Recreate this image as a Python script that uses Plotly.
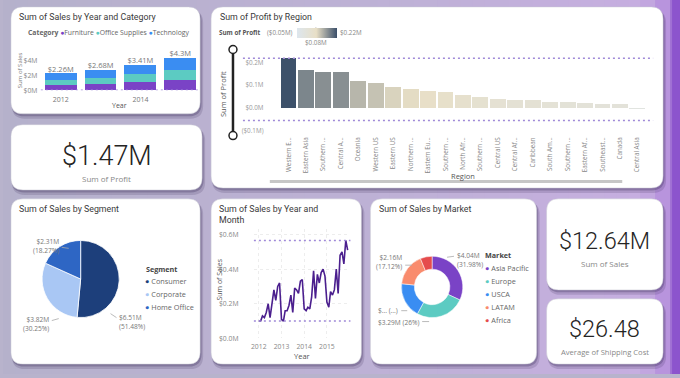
import plotly.graph_objects as go

W, H = 680, 378

# ---------------- data ----------------
YEARS = [2012, 2013, 2014, 2015]
CATEGORIES = ["Furniture", "Office Supplies", "Technology"]
SALES_FURNITURE = [0.73, 0.87, 1.11, 1.40]
SALES_OFFICE = [0.69, 0.80, 1.02, 1.28]
SALES_TECH = [0.84, 1.01, 1.28, 1.62]
YEAR_TICKS = [2012, 2014]

REGIONS = ["Western Europe", "Eastern Asia", "Southern Asia", "Central America", "Oceania",
           "Western US", "Eastern US", "Northern Europe", "Eastern Europe", "Southern Europe",
           "North Africa", "Southern Africa", "Central US", "Central Africa", "Caribbean",
           "South America", "Southern US", "Eastern Africa", "Southeastern Asia", "Canada",
           "Central Asia"]
REGION_TICKS = ["Western E...", "Eastern Asia", "Southern ...", "Central A...", "Oceania",
                "Western US", "Eastern US", "Northern ...", "Eastern Eu...", "Southern ...",
                "North Afr...", "Southern ...", "Central US", "Central Af...", "Caribbean",
                "South Am...", "Southern ...", "Eastern Af...", "Southeast...", "Canada",
                "Central Asia"]
PROFIT = [0.218, 0.167, 0.158, 0.158, 0.120, 0.108, 0.092, 0.083, 0.075, 0.068, 0.058,
          0.046, 0.039, 0.035, 0.035, 0.027, 0.024, 0.020, 0.017, 0.017, -0.004]
PROFIT_SCALE = [-0.05, 0.08, 0.22]      # legend min / mid / max
PROFIT_MIN_ALL = -0.055                 # min line (region scrolled out of view)
PROFIT_TICKS = [0.2, 0.1, 0.0, -0.1]
PROFIT_TICKTEXT = ["$0.2M", "$0.1M", "$0.0M", "($0.1M)"]

KPI_PROFIT = 1.47
KPI_SALES = 12.64
KPI_SHIPPING = 26.48

SEGMENTS = ["Consumer", "Corporate", "Home Office"]
SEGMENT_SALES = [6.508, 3.824, 2.309]

MONTHS = [f"{y}-{m:02d}-01" for y in YEARS for m in range(1, 13)]
MONTHLY_SALES = [
    0.10, 0.10, 0.13, 0.12, 0.15, 0.20, 0.12, 0.21, 0.28, 0.22, 0.30, 0.32,
    0.11, 0.10, 0.16, 0.16, 0.19, 0.25, 0.15, 0.29, 0.28, 0.26, 0.33, 0.34,
    0.17, 0.16, 0.18, 0.17, 0.24, 0.39, 0.23, 0.37, 0.32, 0.38, 0.40, 0.36,
    0.21, 0.18, 0.27, 0.25, 0.28, 0.40, 0.26, 0.48, 0.50, 0.43, 0.566, 0.51]

MARKETS = ["Asia Pacific", "Europe", "USCA", "LATAM", "Africa"]
MARKET_SALES = [4.042, 3.287, 2.364, 2.164, 0.784]

# ---------------- style ----------------
CAT_COLORS = ["#7a43c6", "#5ccbc2", "#3a8df2"]
SEG_COLORS = ["#1d3f7b", "#a9c7f4", "#2e66c4"]
MKT_COLORS = ["#7a43c6", "#5ccbc2", "#3a8df2", "#f98b6d", "#e54c4d"]
LINE_COLOR = "#4b1f8e"
REF_COLOR = "#a08ad8"
TITLE_FONT = "Roboto"
LABEL_FONT = "Open Sans"
TITLE_C = "#3a3a3a"
LABEL_C = "#777777"
TITLE_SIZE = 8.8


def px(x):
    return x / W


def py(y):
    return 1 - y / H


def mfmt(v):
    s = f"{v:.2f}".rstrip("0").rstrip(".")
    return f"${s}M"


def pfmt(p):
    s = f"{p:.2f}".rstrip("0").rstrip(".")
    return f"{s}%"


def rrect(x0, y0, x1, y1, r):
    def P(x, y):
        return f"{x / W:.5f},{1 - y / H:.5f}"
    return ("M " + P(x0 + r, y0) + " L " + P(x1 - r, y0) + " Q " + P(x1, y0) + " " + P(x1, y0 + r)
            + " L " + P(x1, y1 - r) + " Q " + P(x1, y1) + " " + P(x1 - r, y1)
            + " L " + P(x0 + r, y1) + " Q " + P(x0, y1) + " " + P(x0, y1 - r)
            + " L " + P(x0, y0 + r) + " Q " + P(x0, y0) + " " + P(x0 + r, y0) + " Z")


shapes = []
annotations = []


def ann(text, x, y, size=8, color=LABEL_C, xanchor="left", yanchor="middle", family=LABEL_FONT,
        angle=0, align="left", weight="normal"):
    annotations.append(dict(text=text, x=px(x), y=py(y), xref="paper", yref="paper",
                            showarrow=False, xanchor=xanchor, yanchor=yanchor, textangle=angle,
                            align=align, borderpad=0,
                            font=dict(size=size, color=color, family=family, weight=weight)))


# ---------------- background gradient ----------------
def mix(c1, c2, t):
    return tuple(round(a + (b - a) * t) for a, b in zip(c1, c2))


stops = [(0, (181, 177, 203)), (400, (190, 177, 214)), (640, (198, 174, 224)),
         (670, (180, 140, 220)), (672, (140, 84, 205)), (680, (140, 84, 205))]
for (xa, ca), (xb, cb) in zip(stops[:-1], stops[1:]):
    n = max(1, int((xb - xa) / 12))
    for i in range(n):
        xs0 = xa + (xb - xa) * i / n
        xs1 = xa + (xb - xa) * (i + 1) / n + 0.6
        c = mix(ca, cb, (i + 0.5) / n)
        shapes.append(dict(type="rect", xref="paper", yref="paper", x0=px(xs0), x1=px(min(xs1, 680)),
                           y0=0, y1=1, fillcolor=f"rgb{c}", line_width=0, layer="below"))

# ---------------- cards ----------------
CARDS = [(8, 7, 198, 115), (8, 126, 200, 192), (209, 7, 663, 190), (8, 201, 198, 368),
         (209, 201, 360, 368), (369, 201, 536, 368), (546, 201, 663, 293), (546, 302, 663, 368)]
for (x0, y0, x1, y1) in CARDS:
    shapes.append(dict(type="path", path=rrect(x0 + 1, y0 + 3, x1 + 3, y1 + 5, 13), xref="paper",
                       yref="paper", fillcolor="rgba(60,45,90,0.18)", line_width=0, layer="below"))
    shapes.append(dict(type="path", path=rrect(x0 + 0.5, y0 + 1.5, x1 + 1.5, y1 + 2.5, 13), xref="paper",
                       yref="paper", fillcolor="rgba(60,45,90,0.30)", line_width=0, layer="below"))
    shapes.append(dict(type="path", path=rrect(x0, y0, x1, y1, 12), xref="paper", yref="paper",
                       fillcolor="white", line=dict(color="rgba(200,200,210,0.8)", width=0.6),
                       layer="below"))

fig = go.Figure()

# ---------------- card 1 : stacked bars ----------------
for name, vals, col in zip(CATEGORIES, [SALES_FURNITURE, SALES_OFFICE, SALES_TECH], CAT_COLORS):
    fig.add_trace(go.Bar(x=YEARS, y=vals, name=name, marker=dict(color=col, line_width=0),
                         width=0.8, xaxis="x", yaxis="y", showlegend=False))
totals = [a + b + c for a, b, c in zip(SALES_FURNITURE, SALES_OFFICE, SALES_TECH)]
fig.add_trace(go.Scatter(x=YEARS, y=totals, mode="text", text=[mfmt(t) for t in totals],
                         textposition="top center", xaxis="x", yaxis="y", showlegend=False,
                         textfont=dict(size=7.5, color=LABEL_C, family=LABEL_FONT)))
shapes.append(dict(type="line", xref="x domain", yref="y", x0=0, x1=1, y0=0, y1=0,
                   line=dict(color=REF_COLOR, width=1.5, dash="2px,3px")))

ann("Sum of Sales by Year and Category", 15, 17, size=TITLE_SIZE, color=TITLE_C, family=TITLE_FONT)
leg = "<b>Category</b>\u00a0" + "\u00a0".join(
    f'<span style="color:{c}">●</span>{n}' for n, c in zip(CATEGORIES, CAT_COLORS))
ann(leg, 24, 33, size=6.8, color="#666")
ann("Sum of Sales", 17, 71, size=6, angle=-90, xanchor="center")
ann("Year", 117, 107, size=7, color="#555", xanchor="center")

# ---------------- card 2 : KPI profit ----------------
ann(mfmt(KPI_PROFIT), 104, 158, size=27, color="#252423", xanchor="center", family=TITLE_FONT,
    weight=300)
ann("Sum of Profit", 104, 180, size=8, color="#888", xanchor="center")

# ---------------- card 3 : profit by region ----------------
cmin, cmid, cmax = PROFIT_SCALE
mid_pos = (cmid - cmin) / (cmax - cmin)
fig.add_trace(go.Bar(
    x=REGIONS, y=PROFIT, width=0.91, xaxis="x2", yaxis="y2", showlegend=False,
    marker=dict(color=PROFIT, cmin=cmin, cmax=cmax,
                colorscale=[[0, "#dde6ee"], [mid_pos, "#e8dfc6"], [1, "#3b4f69"]],
                line_width=0, showscale=True,
                colorbar=dict(orientation="h", x=px(315), xanchor="center", y=py(33),
                              yanchor="middle", len=40, lenmode="pixels", thickness=10,
                              showticklabels=False, ticks="", outlinewidth=0, xpad=0, ypad=0))))
for v in [max(PROFIT), PROFIT_MIN_ALL]:
    shapes.append(dict(type="line", xref="paper", yref="y2", x0=px(241), x1=px(653), y0=v, y1=v,
                       line=dict(color=REF_COLOR, width=1.5, dash="2px,3px")))
ann("Sum of Profit by Region", 217, 17, size=TITLE_SIZE, color=TITLE_C, family=TITLE_FONT)
ann("<b>Sum of Profit</b>", 216, 33, size=6.3, color="#555")
ann("(" + mfmt(-cmin) + ")", 292, 33, size=6.3, color="#888", xanchor="right")
ann(mfmt(cmax), 337, 33, size=6.3, color="#888")
tick_x = 295 + 40 * mid_pos
shapes.append(dict(type="line", xref="paper", yref="paper", x0=px(tick_x), x1=px(tick_x),
                   y0=py(28), y1=py(38), line=dict(color="#555", width=1)))
ann(mfmt(cmid), tick_x, 43, size=6.3, color="#888", xanchor="center")
ann("Sum of Profit", 221, 95, size=7.5, color="#555", angle=-90, xanchor="center")
ann("Region", 462, 178, size=7.5, color="#555", xanchor="center")
# slider + scrollbar
shapes.append(dict(type="line", xref="paper", yref="paper", x0=px(231), x1=px(231), y0=py(52),
                   y1=py(136), line=dict(color="#222", width=2.5)))
for yc in [50, 137]:
    shapes.append(dict(type="circle", xref="paper", yref="paper", x0=px(227), x1=px(235),
                       y0=py(yc + 4), y1=py(yc - 4), fillcolor="white",
                       line=dict(color="#222", width=1.5)))
shapes.append(dict(type="rect", xref="paper", yref="paper", x0=px(268), x1=px(622), y0=py(185),
                   y1=py(182), fillcolor="#c6c6c6", line_width=0))

# ---------------- card 4 : pie ----------------
seg_total = sum(SEGMENT_SALES)
fig.add_trace(go.Pie(labels=SEGMENTS, values=SEGMENT_SALES, sort=False, direction="clockwise",
                     textinfo="none", showlegend=False,
                     marker=dict(colors=SEG_COLORS, line=dict(color="white", width=0.8)),
                     domain=dict(x=[px(39), px(117)], y=[py(321), py(243)])))
ann("Sum of Sales by Segment", 15, 211, size=TITLE_SIZE, color=TITLE_C, family=TITLE_FONT)
seg_lab = [f"{mfmt(v)}<br>({pfmt(v / seg_total * 100)})" for v in SEGMENT_SALES]
ann(seg_lab[0], 116, 325, size=6.6, color="#777", xanchor="left")
ann(seg_lab[1], 47, 327.5, size=6.6, color="#777", xanchor="right", align="right")
ann(seg_lab[2], 57, 249, size=6.6, color="#777", xanchor="right", align="right")
for (xa, ya, xb, yb) in [(108, 317, 114, 321), (49, 324, 56, 322), (59, 250, 66, 251)]:
    shapes.append(dict(type="line", xref="paper", yref="paper", x0=px(xa), x1=px(xb), y0=py(ya),
                       y1=py(yb), line=dict(color="#aaa", width=0.8)))
ann("<b>Segment</b>", 143, 272, size=7.2, color="#444")
for i, (n, c) in enumerate(zip(SEGMENTS, SEG_COLORS)):
    ann(f'<span style="color:{c}">●</span> {n}', 142, 283.5 + i * 13.4, size=7.3, color="#666")

# ---------------- card 5 : line ----------------
fig.add_trace(go.Scatter(x=MONTHS, y=MONTHLY_SALES, mode="lines", xaxis="x3", yaxis="y3",
                         line=dict(color=LINE_COLOR, width=1.6), showlegend=False))
for v in [max(MONTHLY_SALES), min(MONTHLY_SALES)]:
    shapes.append(dict(type="line", xref="x3 domain", yref="y3", x0=0, x1=1, y0=v, y1=v,
                       line=dict(color=REF_COLOR, width=1.5, dash="2px,3px")))
ann("Sum of Sales by Year and<br>Month", 216, 205, size=TITLE_SIZE, color=TITLE_C, family=TITLE_FONT,
    yanchor="top")
ann("Sum of Sales", 216.5, 283, size=7, color="#555", angle=-90, xanchor="center")
ann("Year", 300, 360, size=7.5, color="#555", xanchor="center")

# ---------------- card 6 : donut ----------------
mk_total = sum(MARKET_SALES)
fig.add_trace(go.Pie(labels=MARKETS, values=MARKET_SALES, sort=False, direction="clockwise",
                     textinfo="none", showlegend=False, hole=0.58,
                     marker=dict(colors=MKT_COLORS, line=dict(color="white", width=0.5)),
                     domain=dict(x=[px(400), px(462)], y=[py(321), py(259)])))
ann("Sum of Sales by Market", 377, 211, size=TITLE_SIZE, color=TITLE_C, family=TITLE_FONT)
mk_lab = [f"{mfmt(v)}<br>({pfmt(v / mk_total * 100)})" for v in MARKET_SALES]
ann(mk_lab[0], 455, 262.5, size=6.6, color="#777")
ann(mk_lab[1].replace("<br>", " "), 419, 325.5, size=6.6, color="#777", xanchor="right")
ann("$... (...)", 398, 314, size=6.6, color="#777", xanchor="right")
ann(mk_lab[3], 402, 264.5, size=6.6, color="#777", xanchor="right", align="right")
for (xa, ya, xb, yb) in [(446, 260, 453, 259), (404, 268, 411, 268), (400, 314, 406, 314),
                         (421, 325, 428, 325)]:
    shapes.append(dict(type="line", xref="paper", yref="paper", x0=px(xa), x1=px(xb), y0=py(ya),
                       y1=py(yb), line=dict(color="#aaa", width=0.8)))
ann("<b>Market</b>", 483, 258, size=7.2, color="#444")
for i, (n, c) in enumerate(zip(MARKETS, MKT_COLORS)):
    ann(f'<span style="color:{c}">●</span> {n}', 483, 270.5 + i * 13.2, size=7.3, color="#666")

# ---------------- cards 7, 8 : KPIs ----------------
ann(mfmt(KPI_SALES), 604.5, 244, size=23.5, color="#252423", xanchor="center", family=TITLE_FONT,
    weight=300)
ann("Sum of Sales", 604.5, 266, size=8, color="#888", xanchor="center")
ann(f"${KPI_SHIPPING:.2f}", 604.5, 333, size=23.5, color="#252423", xanchor="center",
    family=TITLE_FONT, weight=300)
ann("Average of Shipping Cost", 604.5, 356, size=7.6, color="#888", xanchor="center")

# ---------------- axes ----------------
common = dict(showgrid=False, zeroline=False, showline=False, fixedrange=True)
hidden_tick = dict(ticks="outside", tickcolor="rgba(0,0,0,0)")
fig.update_layout(
    width=W, height=H, margin=dict(l=0, r=0, t=0, b=0), autosize=False,
    paper_bgcolor="#b8b3cc", plot_bgcolor="rgba(0,0,0,0)", barmode="stack",
    font=dict(family=LABEL_FONT), hovermode=False,
    xaxis=dict(domain=[px(38), px(198)], range=[2011.5, 2015.5], tickvals=YEAR_TICKS,
               ticktext=[str(v) for v in YEAR_TICKS], tickfont=dict(size=7, color="#777"),
               anchor="y", ticklen=2, **hidden_tick, **common),
    yaxis=dict(domain=[py(91.3), py(49.75)], range=[0, 5.5], tickvals=[0, 2, 4],
               ticktext=["$0M", "$2M", "$4M"], tickfont=dict(size=6.8, color="#888"), anchor="x",
               ticklen=1, **hidden_tick, **common),
    xaxis2=dict(domain=[px(278), px(646)], range=[-0.5, len(REGIONS) - 0.5], tickvals=REGIONS,
                ticktext=REGION_TICKS, tickangle=-90, tickfont=dict(size=6.3, color="#888"),
                anchor="y2", ticklen=2, **hidden_tick, **common),
    yaxis2=dict(domain=[py(133.2), py(57.3)], range=[-0.105, 0.225], tickvals=PROFIT_TICKS,
                ticktext=PROFIT_TICKTEXT, tickfont=dict(size=6.3, color="#999"), anchor="x2",
                ticklen=14, **hidden_tick, **common),
    xaxis3=dict(type="date", domain=[px(252), px(349)], range=["2011-10-15", "2016-01-15"],
                tickvals=[f"{y}-01-01" for y in YEARS], ticktext=[str(y) for y in YEARS],
                tickfont=dict(size=6.8, color="#888"), anchor="y3", showgrid=True,
                gridcolor="#ededed", griddash="dot", zeroline=False, showline=False,
                ticklen=1, fixedrange=True, **hidden_tick),
    yaxis3=dict(domain=[py(342), py(231.75)], range=[0, 0.63], tickvals=[0, 0.2, 0.4, 0.6],
                ticktext=["$0.0M", "$0.2M", "$0.4M", "$0.6M"], tickfont=dict(size=6.8, color="#888"),
                anchor="x3", showgrid=True, gridcolor="#ededed", griddash="dot", zeroline=False,
                showline=False, fixedrange=True, ticklen=13, **hidden_tick),
    shapes=shapes, annotations=annotations,
)

fig.write_html("out.html", config={"displayModeBar": False, "staticPlot": True},
               post_script="document.body.style.margin='0';document.body.style.overflow='hidden';")
